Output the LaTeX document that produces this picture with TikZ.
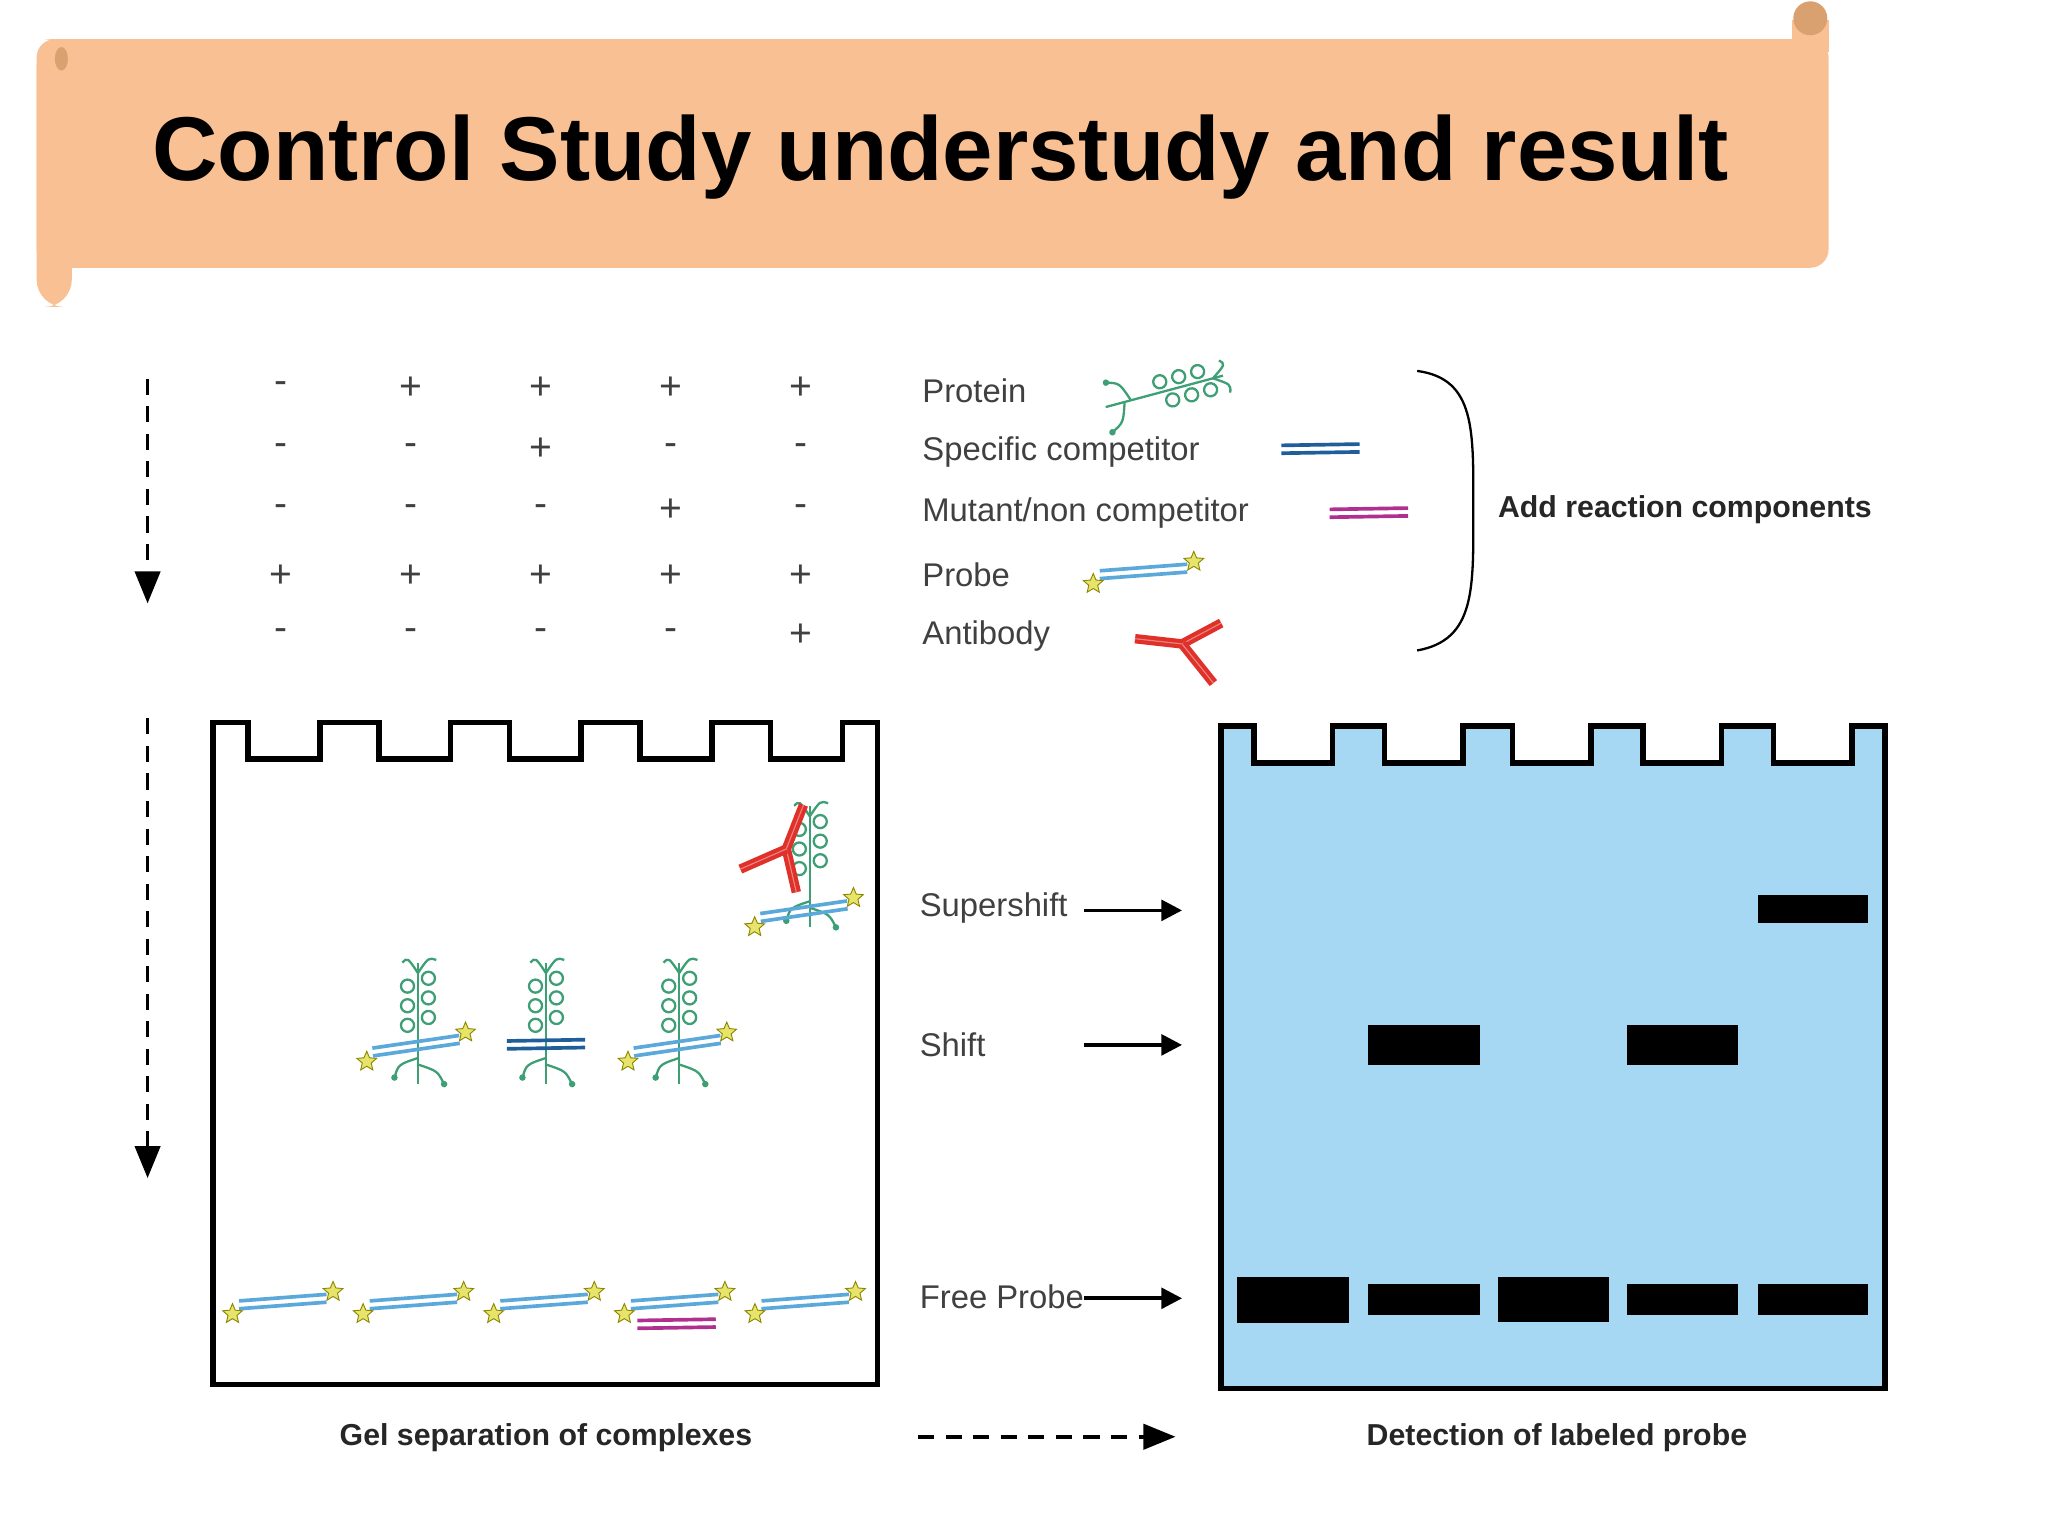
\documentclass[tikz,border=0pt]{standalone}
\usepackage{fontspec}
\setmainfont{Liberation Sans}
\usetikzlibrary{shapes.geometric,arrows.meta,decorations.pathreplacing}
\definecolor{peach}{HTML}{F9C193}
\definecolor{peachd}{HTML}{D9A070}
\definecolor{gelblue}{HTML}{A6D8F4}
\definecolor{probeb}{HTML}{5AA9DA}
\definecolor{compb}{HTML}{1F5E9A}
\definecolor{mutm}{HTML}{B0308F}
\definecolor{protg}{HTML}{3E9E74}
\definecolor{stary}{HTML}{E6E46A}
\definecolor{abred}{HTML}{E0302A}
\definecolor{txtg}{HTML}{404040}
\tikzset{
  sign/.style={font=\fontsize{17}{17}\selectfont, text=txtg},
  lbl/.style={font=\fontsize{14.3}{14.3}\selectfont, text=txtg, anchor=west},
  blbl/.style={font=\bfseries\fontsize{13.2}{13.2}\selectfont, text=black!85},
  gelline/.style={line width=2.4pt, black},
  band/.style={fill=black, draw=none},
  arr/.style={line width=1.6pt, -{Triangle[length=9pt,width=9pt]}},
  abline/.style={draw=abred, line width=1.8pt, double=abred!60!white, double distance=0.5pt},
  pstar/.style={star, star points=5, star point ratio=2.2, minimum size=9pt, inner sep=0pt, fill=stary, draw=olive, line width=0.4pt},
  pics/probe/.style={code={
    \draw[probeb, line width=1.6pt] (-35,0) -- (32,-5);
    \draw[probeb, line width=1.6pt] (-35,6) -- (32,1);
    \node[pstar] at (-40,10) {};
    \node[pstar] at (37,-7) {};
  }},
  pics/comp/.style={code={
    \draw[#1, line width=1.6pt] (-30,-3) -- (30,-4);
    \draw[#1, line width=1.6pt] (-30,3) -- (30,2);
  }},
  pics/protein/.style={code={
    \draw[protg, line width=1pt] (0,-48) -- (0,45);
    \foreach \yy in {-30,-15,0} {
      \draw[protg, line width=1pt] (-8,\yy) circle (5);
      \draw[protg, line width=1pt] (8,\yy-6) circle (5);
    }
    \draw[protg, line width=1pt] (0,-40) .. controls (8,-52) .. (14,-50);
    \draw[protg, line width=1pt] (0,-40) .. controls (-8,-52) .. (-12,-48);
    \draw[protg, line width=1pt] (0,30) .. controls (15,35) .. (20,45);
    \draw[protg, line width=1pt] (0,25) .. controls (-15,30) .. (-18,40);
    \fill[protg] (20,45) circle (2.5);
    \fill[protg] (-18,40) circle (2.5);
  }},
  pics/antibody/.style={code={
    \draw[abline] (0,0) -- (-36,-4);
    \draw[abline] (0,0) -- (30,-16);
    \draw[abline] (0,0) -- (24,30);
  }}
}
\begin{document}
\begin{tikzpicture}[x=0.02cm,y=-0.02cm]
\useasboundingbox (0,0) rectangle (1568,1176);
% banner
\fill[peach, rounded corners=12pt] (28,30) rectangle (55,235);
\fill[peach, rounded corners=8pt] (28,30) rectangle (1400,205);
\fill[peach] (1372,15) rectangle (1400,40);
\fill[peachd] (1386,14) circle (13);
\fill[peachd] (47,45) ellipse (5 and 9);
\node[font=\bfseries\fontsize{39.5}{39.5}\selectfont] (title) at (720,120) {Control Study understudy and result};
% table
\foreach \r/\yy/\vals in {1/297/{-,+,+,+,+},2/344/{-,-,+,-,-},3/391/{-,-,-,+,-},4/441/{+,+,+,+,+},5/486/{-,-,-,-,+}} {
  \foreach \v [count=\c] in \vals {
    \node[sign] (s\r\c) at ({215+(\c-1)*99.5},\yy) {\v};
  }
}
\node[lbl] (lprot) at (700,299) {Protein};
\node[lbl] (lspec) at (700,346) {Specific competitor};
\node[lbl] (lmut) at (700,393) {Mutant/non competitor};
\node[lbl] (lprobe) at (700,440) {Probe};
\node[lbl] (lab) at (700,487) {Antibody};
\pic[rotate=-75] at (890,300) {protein};
\pic at (1011,344) {comp=compb};
\pic at (1048,393) {comp=mutm};
\pic at (877,437) {probe};
\pic at (905,493) {antibody};
\draw[line width=1pt] (1085,284) .. controls (1130,290) and (1128,330) .. (1128,390) .. controls (1128,450) and (1130,490) .. (1085,498);
\node[blbl] (addrc) at (1290,390) {Add reaction components};
% dashed arrows
\coordinate (d1a) at (113,290); \coordinate (d1b) at (113,462);
\draw[line width=1.6pt, dash pattern=on 7pt off 5pt, -{Triangle[length=14pt,width=11pt]}] (d1a) -- (d1b);
\coordinate (d2a) at (113,550); \coordinate (d2b) at (113,902);
\draw[line width=1.6pt, dash pattern=on 7pt off 5pt, -{Triangle[length=14pt,width=11pt]}] (d2a) -- (d2b);
% left gel
\draw[gelline] (163,1060) -- (163,553) foreach \x in {190,290,390,490,590} {-- (\x,553) -- (\x,581) -- (\x+55,581) -- (\x+55,553)} -- (672,553) -- (672,1060) -- cycle;
% right gel
\draw[gelline, fill=gelblue] (935,1063) -- (935,556) foreach \x in {960,1060,1158,1258,1358} {-- (\x,556) -- (\x,584) -- (\x+60,584) -- (\x+60,556)} -- (1443,556) -- (1443,1063) -- cycle;
\fill[band] (947,978) rectangle (1033,1013);
\fill[band] (1047,983) rectangle (1133,1007);
\fill[band] (1147,978) rectangle (1232,1012);
\fill[band] (1246,983) rectangle (1331,1007);
\fill[band] (1346,983) rectangle (1430,1007);
\fill[band] (1047,785) rectangle (1133,815);
\fill[band] (1246,785) rectangle (1331,815);
\fill[band] (1346,685) rectangle (1430,707);
% gel contents
\foreach \x in {218,318,418,518,618} { \pic at (\x,996) {probe}; }
\pic at (518,1014) {comp=mutm};
\foreach \x in {320,520} {
  \pic at (\x,785) {protein};
  \pic[rotate=4] at (\x,800) {probe};
}
\pic at (418,785) {protein};
\pic at (418,800) {comp=compb};
\pic at (620,665) {protein};
\pic[rotate=4] at (617,697) {probe};
\pic[rotate=-105] at (602,650) {antibody};
% middle labels
\node[lbl] (sup) at (698,695) {Supershift};
\node[lbl] (shf) at (698,800) {Shift};
\node[lbl] (fp) at (698,993) {Free Probe};
\coordinate (a1) at (905,697); \coordinate (a2) at (905,800); \coordinate (a3) at (905,994);
\coordinate (b1) at (830,697); \coordinate (b2) at (830,800); \coordinate (b3) at (830,994);
\draw[arr] (b1) -- (a1);
\draw[arr] (b2) -- (a2);
\draw[arr] (b3) -- (a3);
\node[blbl] (gsep) at (418,1101) {Gel separation of complexes};
\node[blbl] (det) at (1192,1101) {Detection of labeled probe};
\draw[line width=1.6pt, dash pattern=on 7pt off 5pt, -{Triangle[length=14pt,width=11pt]}] (703,1100) -- (900,1100);
\end{tikzpicture}
\end{document}
